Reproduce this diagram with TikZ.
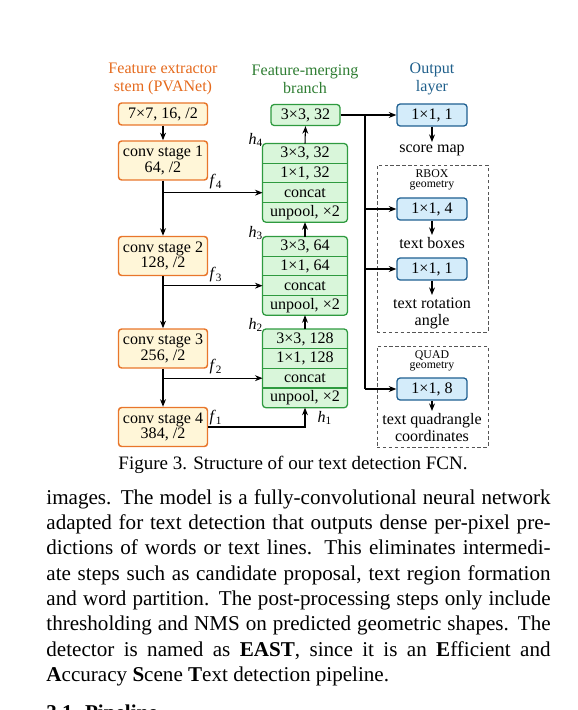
\documentclass[tikz,border=0pt]{standalone}
\usepackage{fontspec}
\setmainfont{Liberation Serif}
\usepackage{tikz}
\usepackage{xcolor}
\usetikzlibrary{arrows.meta, positioning, fit, backgrounds}
\definecolor{StemOrange}{HTML}{E8762B}
\definecolor{StemFill}{HTML}{FFF6D8}
\definecolor{StemTitle}{HTML}{E56A1D}
\definecolor{MergeGreen}{HTML}{2E9A3F}
\definecolor{MergeFill}{HTML}{D9F6DA}
\definecolor{MergeTitle}{HTML}{2E7D32}
\definecolor{OutBlue}{HTML}{1F6091}
\definecolor{OutFill}{HTML}{D4ECFA}
\definecolor{OutTitle}{HTML}{1F5F8B}
\definecolor{GeomGray}{HTML}{555555}
\newlength{\px}
\setlength{\px}{0.474pt}
\tikzset{
    % Column titles
    coltitle/.style={
        align=center,
        inner sep=0pt,
        font=\fontsize{7.6}{8.6}\selectfont
    },
    % Box styles
    stembox/.style={
        rectangle,
        rounded corners=1.5pt,
        draw=StemOrange,
        fill=StemFill,
        line width=0.7pt,
        minimum width=89\px,
        minimum height=22\px,
        inner sep=0pt,
        align=center,
        font=\fontsize{7.6}{7.2}\selectfont
    },
    mergebox/.style={
        rectangle,
        rounded corners=1.5pt,
        draw=MergeGreen,
        fill=MergeFill,
        line width=0.6pt,
        minimum width=69\px,
        minimum height=21\px,
        inner sep=0pt,
        font=\fontsize{7.6}{8.6}\selectfont
    },
    mergerow/.style={
        rectangle,
        minimum width=84\px,
        minimum height=18.8\px,
        inner sep=0pt,
        font=\fontsize{7.6}{8.6}\selectfont
    },
    mergeblock/.style={
        rectangle,
        rounded corners=1.5pt,
        draw=MergeGreen,
        fill=MergeFill,
        line width=0.6pt,
        inner sep=0pt
    },
    mergeline/.style={
        draw=MergeGreen,
        line width=0.6pt
    },
    outbox/.style={
        rectangle,
        rounded corners=1.5pt,
        draw=OutBlue,
        fill=OutFill,
        line width=0.6pt,
        minimum width=70\px,
        minimum height=22\px,
        inner sep=0pt,
        font=\fontsize{7.6}{8.6}\selectfont
    },
    outtext/.style={
        align=center,
        inner sep=1pt,
        font=\fontsize{7.6}{8.2}\selectfont
    },
    geombox/.style={
        rectangle,
        draw=GeomGray,
        dashed,
        dash pattern=on 1.6pt off 1.2pt,
        line width=0.45pt,
        minimum width=111\px
    },
    geomlabel/.style={
        align=center,
        inner sep=0pt,
        font=\fontsize{5.6}{4.8}\selectfont
    },
    featlabel/.style={
        inner sep=0pt,
        font=\fontsize{7.6}{8.6}\selectfont
    },
    % Arrow styles
    myarrow/.style={
        -{Stealth[length=3.6pt,width=2.8pt]},
        line width=0.5pt,
        black
    },
    myline/.style={
        line width=0.5pt,
        black
    }
}

\begin{document}
\begin{tikzpicture}[x=0.474pt, y=-0.474pt]
    \useasboundingbox (0,0) rectangle (577,710);

    % Titles
    \node[coltitle,StemTitle] (stemtitle) at (163,79) {Feature extractor\\stem (PVANet)};
    \node[coltitle,MergeTitle] (mergetitle) at (305,79) {Feature-merging\\branch};
    \node[coltitle,OutTitle] (outtitle) at (432,79) {Output\\layer};

    % Feature extractor stem
    \node[stembox] (s0) at (163,114) {7×7, 16, /2};
    \node[stembox,minimum height=39\px] (s1) at (163,160.5) {conv stage 1\\64, /2};
    \node[stembox,minimum height=39\px] (s2) at (163,256) {conv stage 2\\128, /2};
    \node[stembox,minimum height=39\px] (s3) at (163,348.5) {conv stage 3\\256, /2};
    \node[stembox,minimum height=39\px] (s4) at (163,427) {conv stage 4\\384, /2};

    % Feature-merging branch
    \node[mergebox] (m0) at (305.5,115) {3×3, 32};

    \node[mergerow] (b1a) at (305,153.4) {3×3, 32};
    \node[mergerow,below=0pt of b1a] (b1b) {1×1, 32};
    \node[mergerow,below=0pt of b1b] (b1c) {concat};
    \node[mergerow,below=0pt of b1c] (b1d) {unpool, ×2};

    \node[mergerow] (b2a) at (305,246.4) {3×3, 64};
    \node[mergerow,below=0pt of b2a] (b2b) {1×1, 64};
    \node[mergerow,below=0pt of b2b] (b2c) {concat};
    \node[mergerow,below=0pt of b2c] (b2d) {unpool, ×2};

    \node[mergerow] (b3a) at (305,338.9) {3×3, 128};
    \node[mergerow,below=0pt of b3a] (b3b) {1×1, 128};
    \node[mergerow,below=0pt of b3b] (b3c) {concat};
    \node[mergerow,below=0pt of b3c] (b3d) {unpool, ×2};

    \begin{scope}[on background layer]
        \node[mergeblock,fit=(b1a)(b1d)] (b1) {};
        \node[mergeblock,fit=(b2a)(b2d)] (b2) {};
        \node[mergeblock,fit=(b3a)(b3d)] (b3) {};
    \end{scope}
    \draw[mergeline] (b1a.south west) -- (b1a.south east);
    \draw[mergeline] (b1b.south west) -- (b1b.south east);
    \draw[mergeline] (b1c.south west) -- (b1c.south east);
    \draw[mergeline] (b2a.south west) -- (b2a.south east);
    \draw[mergeline] (b2b.south west) -- (b2b.south east);
    \draw[mergeline] (b2c.south west) -- (b2c.south east);
    \draw[mergeline] (b3a.south west) -- (b3a.south east);
    \draw[mergeline] (b3b.south west) -- (b3b.south east);
    \draw[mergeline] (b3c.south west) -- (b3c.south east);

    % Output layer
    \node[outbox] (o1) at (432,115) {1×1, 1};
    \node[outtext,anchor=north] (score) at (432,142) {score map};

    \node[geombox,minimum height=167\px] (rbox) at (432.5,248.5) {};
    \node[geomlabel] (rboxlabel) at (432,180) {RBOX\\geometry};
    \node[outbox] (o2) at (432,209) {1×1, 4};
    \node[outtext,anchor=north] (boxes) at (432,235) {text boxes};
    \node[outbox] (o3) at (432,269) {1×1, 1};
    \node[outtext,anchor=north] (angle) at (432,295) {text rotation\\angle};

    \node[geombox,minimum height=101\px] (quad) at (432.5,396.5) {};
    \node[geomlabel] (quadlabel) at (432,361) {QUAD\\geometry};
    \node[outbox] (o4) at (432,389) {1×1, 8};
    \node[outtext,anchor=north] (coords) at (432,411) {text quadrangle\\coordinates};

    \coordinate (split) at (365,115);

    % Arrows
    \draw[myarrow] (s0.south) -- (s1.north);
    \draw[myarrow] (s1.south) -- (s2.north);
    \draw[myarrow] (s2.south) -- (s3.north);
    \draw[myarrow] (s3.south) -- (s4.north);

    \draw[myarrow] (s1.south |- b1c.west) -- (b1c.west);
    \draw[myarrow] (s2.south |- b2c.west) -- (b2c.west);
    \draw[myarrow] (s3.south |- b3c.west) -- (b3c.west);
    \draw[myarrow] (s4.east) -| (b3d.south);

    \draw[myarrow] (b3a.north) -- (b2d.south);
    \draw[myarrow] (b2a.north) -- (b1d.south);
    \draw[myarrow] (b1a.north) -- (m0.south);

    \draw[myarrow] (m0.east) -- (o1.west);
    \draw[myline] (split) -- (split |- o4.west);
    \draw[myarrow] (split |- o2.west) -- (o2.west);
    \draw[myarrow] (split |- o3.west) -- (o3.west);
    \draw[myarrow] (split |- o4.west) -- (o4.west);

    \draw[myarrow] (o1.south) -- (score.north);
    \draw[myarrow] (o2.south) -- (boxes.north);
    \draw[myarrow] (o3.south) -- (angle.north);
    \draw[myarrow] (o4.south) -- (coords.north);

    % Feature labels
    \node[featlabel] (f4) at (216,182) {\textit{f}\textsubscript{4}};
    \node[featlabel] (f3) at (216,275) {\textit{f}\textsubscript{3}};
    \node[featlabel] (f2) at (216,367) {\textit{f}\textsubscript{2}};
    \node[featlabel] (f1) at (216,418) {\textit{f}\textsubscript{1}};
    \node[featlabel] (h4) at (256,140) {\textit{h}\textsubscript{4}};
    \node[featlabel] (h3) at (256,233) {\textit{h}\textsubscript{3}};
    \node[featlabel] (h2) at (256,325) {\textit{h}\textsubscript{2}};
    \node[featlabel] (h1) at (325,418) {\textit{h}\textsubscript{1}};

    % Caption and text
    \node[font=\fontsize{9}{10.8}\selectfont,inner sep=0pt] (caption) at (293,465) {Figure 3. Structure of our text detection FCN.};

    \node[anchor=north west,inner sep=0pt,text width=239pt,align=justify,
          font=\fontsize{10}{12}\selectfont] (body) at (46,489)
        {images.  The model is a fully-convolutional neural network\linebreak
         adapted for text detection that outputs dense per-pixel pre-\linebreak
         dictions of words or text lines.  This eliminates intermedi-\linebreak
         ate steps such as candidate proposal, text region formation\linebreak
         and word partition.  The post-processing steps only include\linebreak
         thresholding and NMS on predicted geometric shapes.  The\linebreak
         detector is named as \textbf{EAST}, since it is an \textbf{E}fficient and\linebreak
         \textbf{A}ccuracy \textbf{S}cene \textbf{T}ext detection pipeline.};

    \node[anchor=north west,inner sep=0pt,font=\fontsize{10}{12}\selectfont\bfseries] (section) at (46,704) {3.1. Pipeline};
\end{tikzpicture}
\end{document}
